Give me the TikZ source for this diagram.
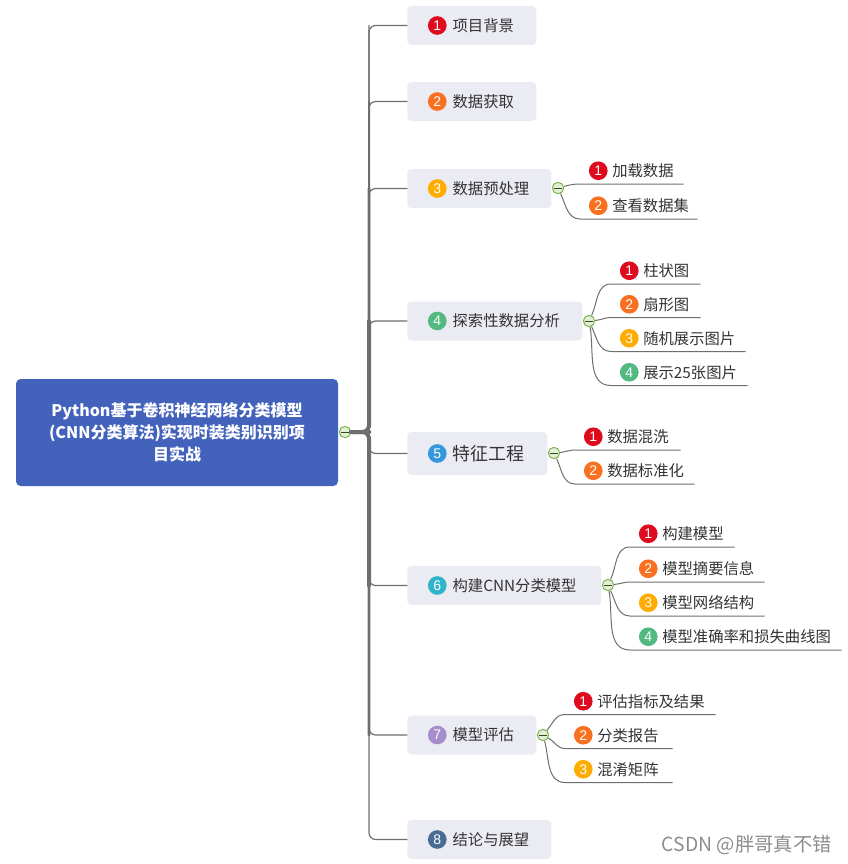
\documentclass[tikz,border=0pt]{standalone}
\usepackage{fontspec}
\setmainfont{Noto Sans CJK SC}
\newfontfamily\numfont{Liberation Sans}
\usetikzlibrary{positioning}
\definecolor{boxgray}{HTML}{EBECF3}
\definecolor{rootblue}{HTML}{4362BC}
\definecolor{linegray}{HTML}{6E6E6E}
\definecolor{textgray}{HTML}{333333}
\definecolor{togglegreen}{HTML}{7AB648}
\definecolor{togglefill}{HTML}{E2EED8}
\definecolor{numa}{HTML}{DE0A1E}
\definecolor{numb}{HTML}{FA7021}
\definecolor{numc}{HTML}{FFAC00}
\definecolor{numd}{HTML}{52B981}
\definecolor{nume}{HTML}{3498DB}
\definecolor{numf}{HTML}{2FB4CC}
\definecolor{numg}{HTML}{A68DCB}
\definecolor{numh}{HTML}{4A6B92}
\tikzset{%
  rootbox/.style = {rectangle,fill=rootblue,rounded corners=3.5pt,text=white,
        font=\fontsize{12}{16.5}\selectfont\bfseries,align=center,
        minimum width=241.5pt,minimum height=80.25pt},
  topic/.style = {rectangle,fill=boxgray,rounded corners=3pt,anchor=west,text=textgray,
        inner xsep=0pt,minimum height=29.25pt,align=left,text width=#1,
        font=\fontsize{11.5}{14}\selectfont,
        execute at begin node=\hspace*{34pt}},
  leaf/.style = {anchor=south west,text=textgray,inner xsep=0pt,inner ysep=0pt,
        minimum height=19.5pt,align=left,text width=#1,
        font=\fontsize{11.5}{14}\selectfont,
        execute at begin node=\hspace*{24pt}},
  badge/.style = {circle,fill=#1,text=white,inner sep=0pt,minimum size=14pt,
        font=\numfont\fontsize{10.5}{11}\selectfont},
  toggle/.style = {circle,draw=togglegreen,fill=togglefill,inner sep=0pt,
        line width=0.75pt,minimum size=8.5pt,
        path picture={\draw[black!60!togglegreen,line width=0.7pt]
          ([xshift=1pt]path picture bounding box.west) --
          ([xshift=-1pt]path picture bounding box.east);}},
  spine/.style = {draw=linegray,rounded corners=5pt,line cap=round},
  sub/.style = {draw=linegray,line width=0.75pt}
}
\begin{document}
\begin{tikzpicture}[x=0.75pt,y=-0.75pt]
\useasboundingbox (0,0) rectangle (848,864);

\node[rootbox] (root) at (177,432.5) {Python基于卷积神经网络分类模型\\(CNN分类算法)实现时装类别识别项\\目实战};
\node[toggle] (tg0) at (345,432) {};
\coordinate (trunk) at (369,432);

% first level
\node[topic=96.75pt] (b1) at (407,25.5) {项目背景};
\node[badge=numa,right=15.5pt of b1.west] (n1) {1};
\node[topic=96.75pt] (b2) at (407,101.5) {数据获取};
\node[badge=numb,right=15.5pt of b2.west] (n2) {2};
\node[topic=108pt] (b3) at (407,188.5) {数据预处理};
\node[badge=numc,right=15.5pt of b3.west] (n3) {3};
\node[topic=131.25pt] (b4) at (407,321) {探索性数据分析};
\node[badge=numd,right=15.5pt of b4.west] (n4) {4};
\node[topic=105pt,minimum height=32.25pt,font=\fontsize{13.5}{16}\selectfont] (b5) at (407,453.5) {特征工程};
\node[badge=nume,right=15.5pt of b5.west] (n5) {5};
\node[topic=145.5pt] (b6) at (407,585.5) {构建CNN分类模型};
\node[badge=numf,right=15.5pt of b6.west] (n6) {6};
\node[topic=96.75pt] (b7) at (407,735) {模型评估};
\node[badge=numg,right=15.5pt of b7.west] (n7) {7};
\node[topic=108pt] (b8) at (407,839.5) {结论与展望};
\node[badge=numh,right=15.5pt of b8.west] (n8) {8};

% second level
\node[toggle] (tg3) at (558,188) {};
\node[leaf=77.25pt] (c31) at (580,184) {加载数据};
\node[badge=numa,right=6.5pt of c31.west] (n31) {1};
\node[leaf=87.75pt] (c32) at (580,219) {查看数据集};
\node[badge=numb,right=6.5pt of c32.west] (n32) {2};

\node[toggle] (tg4) at (589,321) {};
\node[leaf=66.75pt] (c41) at (611,284) {柱状图};
\node[badge=numa,right=6.5pt of c41.west] (n41) {1};
\node[leaf=66.75pt] (c42) at (611,317.5) {扇形图};
\node[badge=numb,right=6.5pt of c42.west] (n42) {2};
\node[leaf=100.5pt] (c43) at (611,351.5) {随机展示图片};
\node[badge=numc,right=6.5pt of c43.west] (n43) {3};
\node[leaf=102pt] (c44) at (611,385.5) {展示25张图片};
\node[badge=numd,right=6.5pt of c44.west] (n44) {4};

\node[toggle] (tg5) at (554,453) {};
\node[leaf=78.75pt] (c51) at (575,450) {数据混洗};
\node[badge=numa,right=6.5pt of c51.west] (n51) {1};
\node[leaf=89.25pt] (c52) at (575,484) {数据标准化};
\node[badge=numb,right=6.5pt of c52.west] (n52) {2};

\node[toggle] (tg6) at (608,585) {};
\node[leaf=78pt] (c61) at (630,547) {构建模型};
\node[badge=numa,right=6.5pt of c61.west] (n61) {1};
\node[leaf=100.5pt] (c62) at (630,582) {模型摘要信息};
\node[badge=numb,right=6.5pt of c62.west] (n62) {2};
\node[leaf=100.5pt] (c63) at (630,616) {模型网络结构};
\node[badge=numc,right=6.5pt of c63.west] (n63) {3};
\node[leaf=158.25pt] (c64) at (630,650) {模型准确率和损失曲线图};
\node[badge=numd,right=6.5pt of c64.west] (n64) {4};

\node[toggle] (tg7) at (543,735) {};
\node[leaf=112.5pt] (c71) at (565,714.5) {评估指标及结果};
\node[badge=numa,right=6.5pt of c71.west] (n71) {1};
\node[leaf=80.25pt] (c72) at (565,748.5) {分类报告};
\node[badge=numb,right=6.5pt of c72.west] (n72) {2};
\node[leaf=80.25pt] (c73) at (565,782.5) {混淆矩阵};
\node[badge=numc,right=6.5pt of c73.west] (n73) {3};

% trunk gets thinner away from the root
\foreach \b in {b1,b2,b3,b4,b5,b6,b7,b8}{
  \draw[spine,line width=0.9pt] (tg0) -| (trunk |- \b.west) -- (\b.west);
}
\foreach \b/\w in {b1/1pt,b2/1.5pt,b3/2.2pt,b4/3pt,b6/3pt,b7/1.9pt}{
  \draw[spine,line width=\w] (tg0) -| (trunk |- \b.west);
}
\draw[spine,line width=3.4pt] (tg0) -- (trunk);

\foreach \c/\o in {c31/15,c32/-65}{
  \draw[sub] (tg3) to[out=\o,in=180] (\c.south west) -- (\c.south east);
}
\foreach \c/\o in {c41/65,c42/5,c43/-65,c44/-80}{
  \draw[sub] (tg4) to[out=\o,in=180] (\c.south west) -- (\c.south east);
}
\foreach \c/\o in {c51/5,c52/-65}{
  \draw[sub] (tg5) to[out=\o,in=180] (\c.south west) -- (\c.south east);
}
\foreach \c/\o in {c61/65,c62/5,c63/-65,c64/-80}{
  \draw[sub] (tg6) to[out=\o,in=180] (\c.south west) -- (\c.south east);
}
\foreach \c/\o in {c71/50,c72/-30,c73/-75}{
  \draw[sub] (tg7) to[out=\o,in=180] (\c.south west) -- (\c.south east);
}

\node[text=black!45,inner sep=0pt,font=\fontsize{14.5}{16}\selectfont,anchor=east] (mark) at (832,845) {CSDN @胖哥真不错};
\end{tikzpicture}
\end{document}
